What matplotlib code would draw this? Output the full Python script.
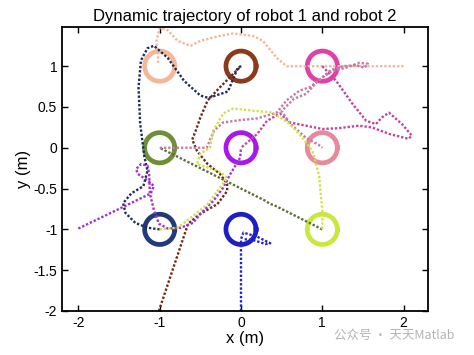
import numpy as np
import matplotlib
matplotlib.use('Agg')
import matplotlib.pyplot as plt

plt.rcParams['font.family'] = ['Liberation Sans', 'DejaVu Sans']

# goal circles (centres) and their colours
cx = [-1, 0, 1, -1, 0, 1, -1, 0, 1]
cy = [1, 1, 1, 0, 0, 0, -1, -1, -1]
ccol = ['#f4b898', '#8c3a1c', '#e040a8', '#6e8e38', '#a818e8', '#e8889c', '#223a7a', '#1c1cc8', '#c8e83c']

# trajectories
peach_x = [2.0, 1.2, 0.56, 0.44, 0.27, 0.15, -0.1, -0.26, -0.5, -0.62, -0.78, -0.9, -1.0, -1.04, -1.02, -1.02]
peach_y = [1.0, 1.0, 1.0, 1.1, 1.31, 1.37, 1.4, 1.37, 1.31, 1.25, 1.31, 1.44, 1.47, 1.3, 1.15, 1.03]
brown_x = [-1.01, -0.65, -0.5, -0.29, -0.17, -0.17, -0.26, -0.41, -0.54, -0.6, -0.56, -0.5, -0.41, -0.26, -0.1, 0.0]
brown_y = [-2.0, -0.93, -0.81, -0.69, -0.53, -0.44, -0.32, -0.2, -0.04, 0.1, 0.2, 0.37, 0.58, 0.74, 0.9, 1.0]
mag_x = [1.0, 1.17, 1.37, 1.54, 1.66, 1.73, 1.82, 1.98, 2.1, 2.06, 1.82, 1.61, 1.45, 1.2, 1.0, 0.6, 0.48, 0.32, 0.2, 0.0]
mag_y = [1.0, 0.82, 0.54, 0.33, 0.29, 0.37, 0.43, 0.29, 0.15, 0.11, 0.17, 0.25, 0.27, 0.24, 0.23, 0.31, 0.42, 0.33, 0.17, 0.0]
olive_x = [1.0, 0.4, 0.36, 0.3, -1.0]
olive_y = [-1.0, -0.7, -0.69, -0.65, 0.0]
violet_x = [-2.0, -1.48, -1.11, -1.07, -1.15, -1.27, -1.29, -1.23, -1.15, -1.13, -1.12, -1.07, -1.01, -0.9, -0.74, -0.59, -0.5, -0.34, -0.22, -0.13, -0.01, 0.0]
violet_y = [-0.99, -0.74, -0.56, -0.47, -0.4, -0.32, -0.26, -0.2, -0.22, -0.32, -0.56, -0.77, -0.93, -0.99, -0.98, -0.92, -0.81, -0.65, -0.49, -0.32, -0.12, 0.0]
pink_x = [-1.0, -0.42, -0.38, -0.33, -0.22, 0.0, 0.2, 0.44, 0.56, 0.72, 0.84, 1.0, 1.12, 1.29, 1.45, 1.56, 1.52, 1.42, 1.25, 1.1, 0.95, 0.8, 0.65, 0.5, 0.6, 0.8, 0.95, 1.0]
pink_y = [0.0, 0.0, 0.1, 0.21, 0.31, 0.34, 0.36, 0.43, 0.58, 0.7, 0.74, 0.86, 0.94, 0.98, 1.04, 1.03, 0.98, 1.01, 1.0, 0.95, 0.82, 0.66, 0.6, 0.45, 0.3, 0.12, 0.04, 0.0]
navy_x = [0.0, -0.04, -0.16, -0.4, -0.5, -0.7, -0.9, -1.07, -1.15, -1.23, -1.26, -1.24, -1.19, -1.15, -1.2, -1.35, -1.45, -1.42, -1.3, -1.15, -1.0]
navy_y = [1.0, 0.98, 0.69, 0.61, 0.64, 0.82, 1.1, 1.25, 1.22, 1.07, 0.74, 0.3, -0.1, -0.28, -0.47, -0.56, -0.68, -0.8, -0.92, -0.98, -1.0]
blue_x = [0.0, 0.0, 0.03, 0.2, 0.36, 0.3, 0.15, 0.03]
blue_y = [-2.0, -1.12, -1.04, -1.09, -1.17, -1.18, -1.13, -1.12]
yel_x = [-1.0, -0.9, -0.78, -0.62, -0.41, -0.26, -0.17, -0.25, -0.38, -0.54, -0.5, -0.38, -0.34, -0.22, -0.1, 0.2, 0.39, 0.6, 0.76, 0.88, 0.96, 1.0, 1.0]
yel_y = [-1.0, -0.99, -0.98, -0.86, -0.69, -0.49, -0.37, -0.3, -0.25, -0.2, -0.07, 0.0, 0.21, 0.42, 0.48, 0.45, 0.43, 0.29, 0.12, -0.04, -0.34, -0.77, -1.0]

fig = plt.figure(figsize=(4.74, 3.55), dpi=100)
ax = fig.add_axes([0.131, 0.124, 0.772, 0.8])

# circles
t = np.linspace(0, 2*np.pi, 100)
r = 0.185
for i in range(9):
    ax.plot(cx[i] + r*np.cos(t), cy[i] + r*np.sin(t), color=ccol[i], lw=3.4)

# dotted paths, same colour as the goal circle
paths = [(peach_x, peach_y, ccol[0]), (brown_x, brown_y, '#6a2a18'), (mag_x, mag_y, '#c4449c'),
         (olive_x, olive_y, '#5c6e3a'), (violet_x, violet_y, '#a030d8'), (pink_x, pink_y, '#c87aa8'),
         (navy_x, navy_y, '#1e2c5c'), (blue_x, blue_y, '#2424c4'), (yel_x, yel_y, '#d4e04a')]
for px, py, c in paths:
    ax.plot(px, py, color=c, lw=1.7, linestyle=(0, (1, 0.8)))

ax.set_xlim(-2.2, 2.3)
ax.set_ylim(-2, 1.48)
ax.set_xticks([-2, -1, 0, 1, 2])
ax.set_yticks([-2, -1.5, -1, -0.5, 0, 0.5, 1])
ax.set_yticklabels(['-2', '-1.5', '-1', '-0.5', '0', '0.5', '1'])
ax.set_xticklabels(['-2', '-1', '0', '1', '2'])
ax.tick_params(direction='in', length=4, width=1, labelsize=10, top=True, right=True)
for s in ax.spines.values():
    s.set_linewidth(1.3)
ax.set_xlabel('x (m)', fontsize=12, labelpad=1)
ax.set_ylabel('y (m)', fontsize=12, labelpad=2)
ax.set_title('Dynamic trajectory of robot 1 and robot 2', fontsize=12, pad=4)

# watermark
fig.text(0.705, 0.055, '公众号 · 天天Matlab', fontsize=9, color='#b4b4b4',
         family=['Noto Sans CJK SC', 'DejaVu Sans'], va='center')

fig.savefig('out.png', dpi=100)
